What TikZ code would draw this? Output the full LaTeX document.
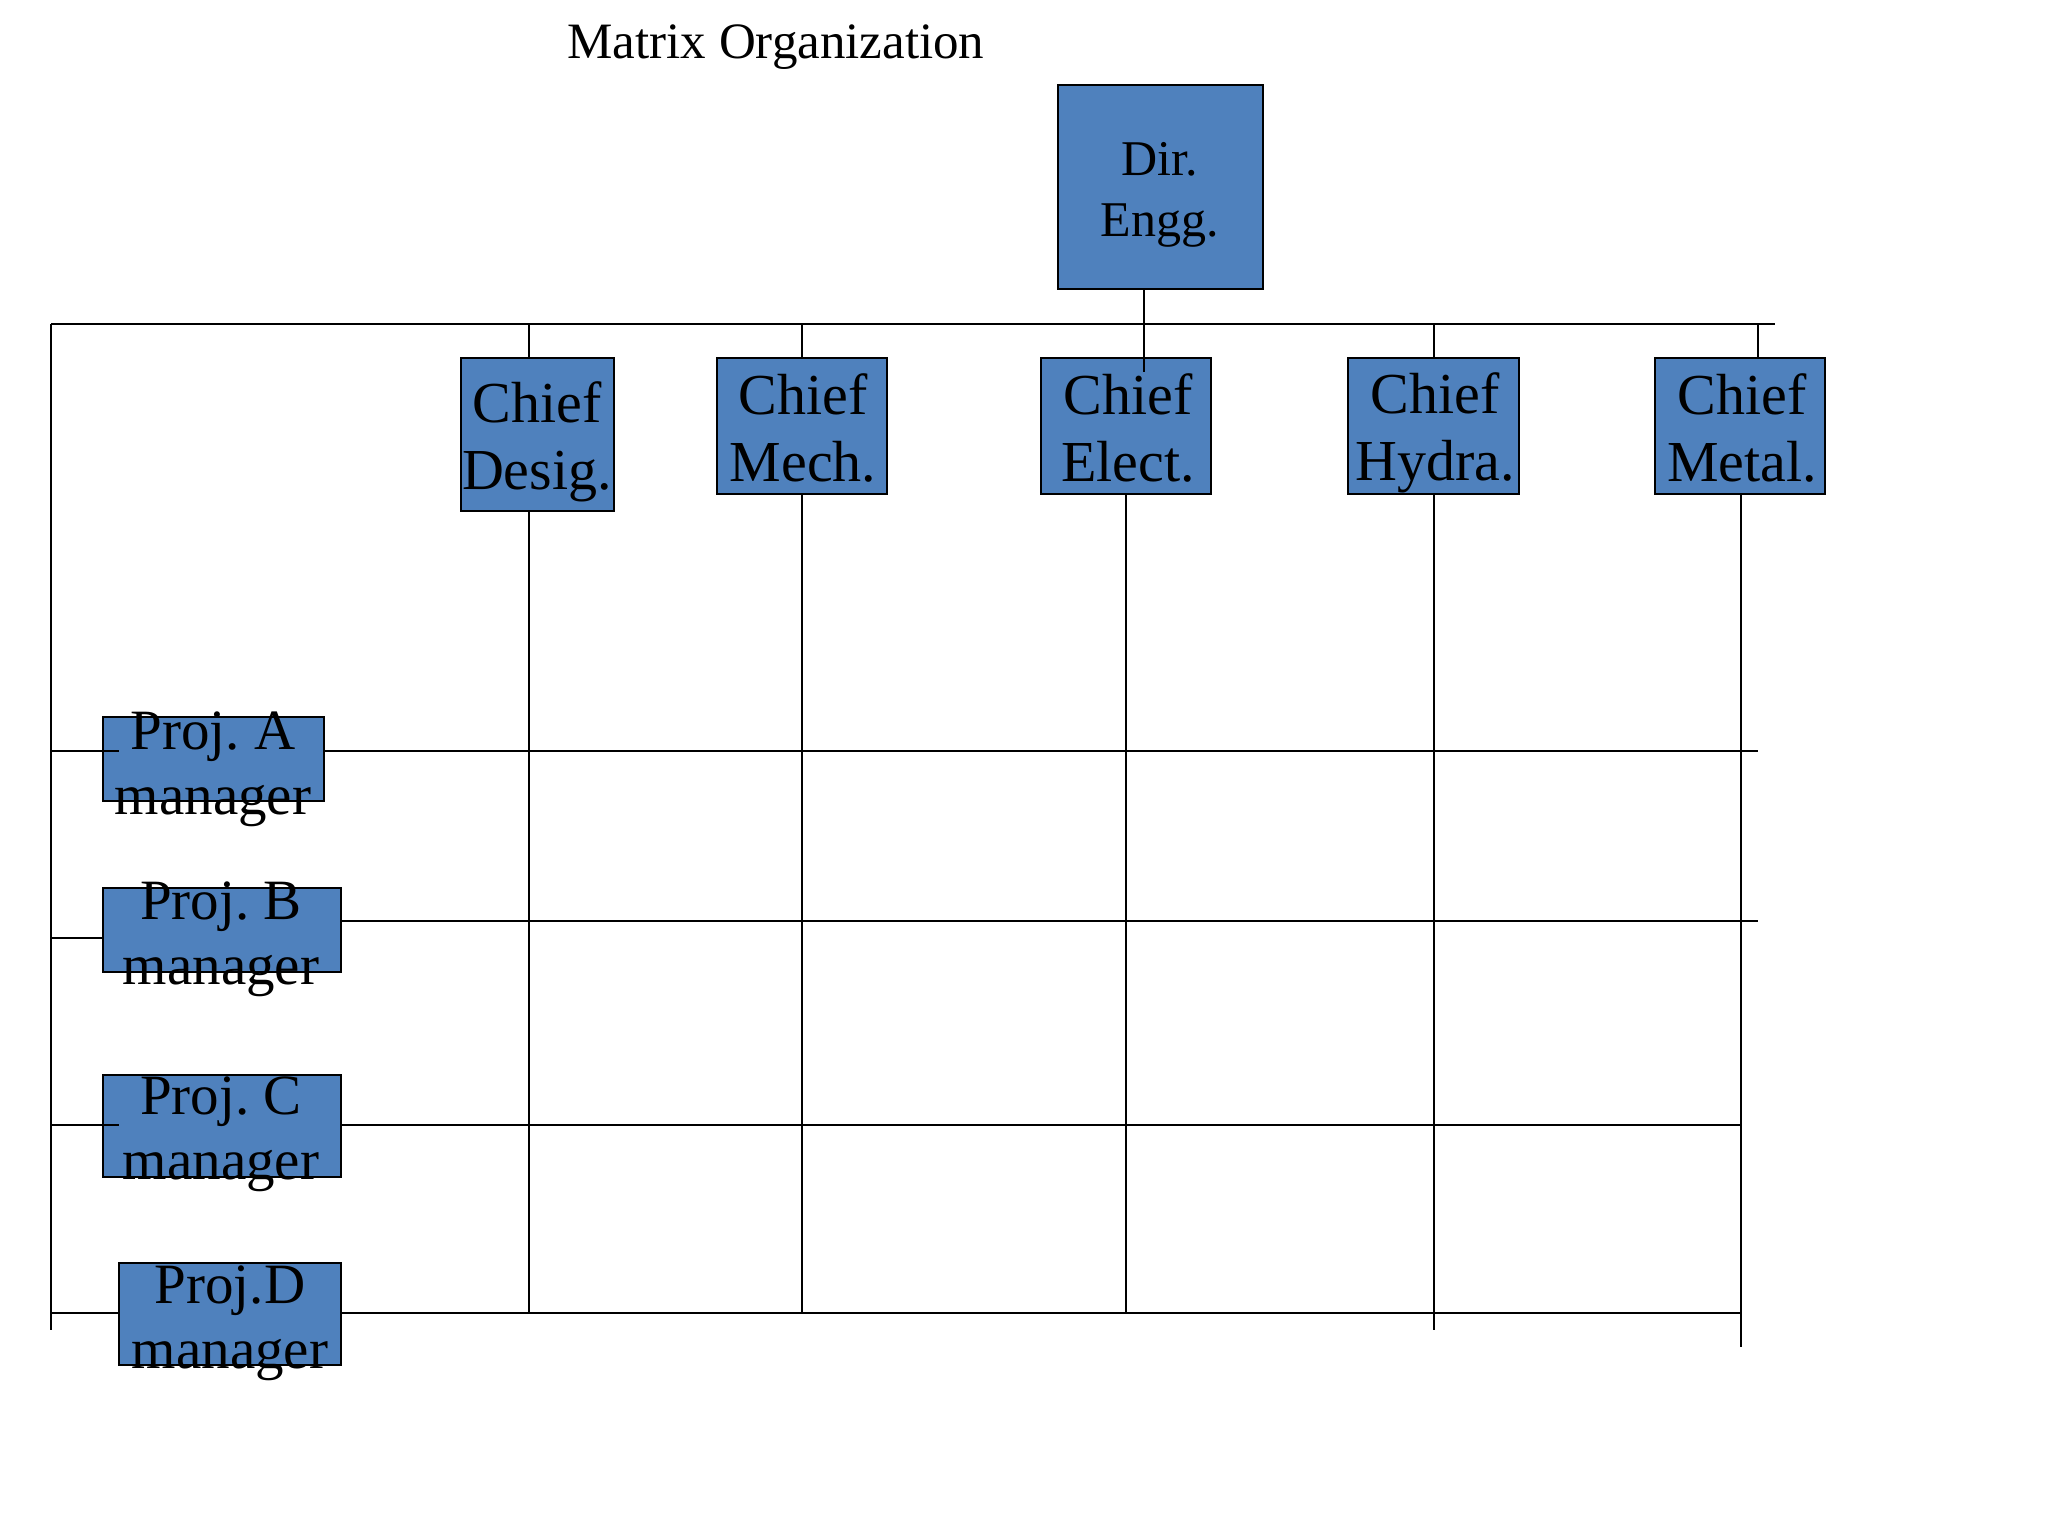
\documentclass[tikz,border=0pt]{standalone}
\usepackage{fontspec}
\setmainfont{Liberation Serif}
\frenchspacing
\definecolor{boxblue}{RGB}{79,129,189}
\tikzset{
  box/.style={draw=black, line width=2pt, fill=boxblue, inner sep=0pt, outer sep=0pt},
  wire/.style={draw=black, line width=2pt},
  chieft/.style={align=center, inner sep=0pt, font=\fontsize{58}{67}\selectfont},
  dirt/.style={align=center, inner sep=0pt, font=\fontsize{50}{61}\selectfont},
  projt/.style={align=center, inner sep=0pt, font=\fontsize{57}{65}\selectfont},
  titlet/.style={inner sep=0pt, font=\fontsize{51}{60}\selectfont},
}
\begin{document}
\begin{tikzpicture}[x=1pt,y=-1pt]
\fill[white] (0,0) rectangle (2048,1536);
\useasboundingbox (0,0) rectangle (2048,1536);

\node[titlet] (title) at (776,47) {Matrix Organization};

% boxes
\node[box, minimum width=205pt, minimum height=204pt] (dir) at (1160.5,187) {};
\node[box, minimum width=153pt, minimum height=153pt] (desig) at (537.5,434.5) {};
\node[box, minimum width=170pt, minimum height=136pt] (mech) at (802,426) {};
\node[box, minimum width=170pt, minimum height=136pt] (elect) at (1126,426) {};
\node[box, minimum width=171pt, minimum height=136pt] (hydra) at (1433.5,426) {};
\node[box, minimum width=170pt, minimum height=136pt] (metal) at (1740,426) {};
\node[box, minimum width=221pt, minimum height=84pt] (pa) at (213.5,759) {};
\node[box, minimum width=238pt, minimum height=84pt] (pb) at (222,930) {};
\node[box, minimum width=238pt, minimum height=102pt] (pc) at (222,1126) {};
\node[box, minimum width=222pt, minimum height=102pt] (pd) at (230,1314) {};

% texts
\node[dirt] (dirT) at (1160,194.5) {Dir.\\Engg.};
\node[chieft] (desigT) at (537,442) {Chief\\Desig.};
\node[chieft] (mechT) at (803,427.5) {Chief\\Mech.};
\node[chieft] (electT) at (1128,427.5) {Chief\\Elect.};
\node[chieft] (hydraT) at (1435,433) {Chief\\Hydra.};
\node[chieft] (metalT) at (1742,427.5) {Chief\\Metal.};
\node[projt] (paT) at (213,769) {Proj. A\\manager};
\node[projt] (pbT) at (221,939) {Proj. B\\manager};
\node[projt] (pcT) at (221,1134) {Proj. C\\manager};
\node[projt] (pdT) at (230,1323) {Proj.D\\manager};

% coordinates
\coordinate (busL) at (51,324);
\coordinate (busR) at (1775,324);
\coordinate (leftB) at (51,1330);
\coordinate (dsT) at (529,324);
\coordinate (dsB) at (529,1313);
\coordinate (meT) at (802,324);
\coordinate (meB) at (802,1313);
\coordinate (dirTap) at (1144,372);
\coordinate (elB) at (1126,1313);
\coordinate (hyT) at (1434,324);
\coordinate (hyB) at (1434,1330);
\coordinate (mtT) at (1758,324);
\coordinate (mtB) at (1741,1347);
\coordinate (aL) at (51,751);
\coordinate (aS) at (119,751);
\coordinate (aR) at (1758,751);
\coordinate (bL) at (51,938);
\coordinate (bR) at (1758,921);
\coordinate (cL) at (51,1125);
\coordinate (cS) at (119,1125);
\coordinate (cR) at (1741,1125);
\coordinate (dL) at (51,1313);
\coordinate (dR) at (1741,1313);

% wires
\draw[wire] (busL) -- (busR);
\draw[wire] (busL) -- (leftB);
\draw[wire] (dsT) -- (dsT |- desig.north);
\draw[wire] (dsB |- desig.south) -- (dsB);
\draw[wire] (meT) -- (meT |- mech.north);
\draw[wire] (meB |- mech.south) -- (meB);
\draw[wire] (dirTap |- dir.south) -- (dirTap);
\draw[wire] (elB |- elect.south) -- (elB);
\draw[wire] (hyT) -- (hyT |- hydra.north);
\draw[wire] (hyB |- hydra.south) -- (hyB);
\draw[wire] (mtT) -- (mtT |- metal.north);
\draw[wire] (mtB |- metal.south) -- (mtB);
\draw[wire] (aL) -- (aS);
\draw[wire] (pa.east |- aR) -- (aR);
\draw[wire] (bL) -- (bL -| pb.west);
\draw[wire] (bR -| pb.east) -- (bR);
\draw[wire] (cL) -- (cS);
\draw[wire] (cR -| pc.east) -- (cR);
\draw[wire] (dL) -- (dL -| pd.west);
\draw[wire] (dR -| pd.east) -- (dR);
\end{tikzpicture}
\end{document}
